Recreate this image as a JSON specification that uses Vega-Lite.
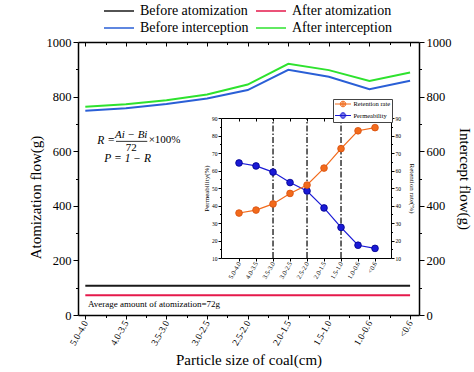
{
  "$schema": "https://vega.github.io/schema/vega-lite/v6.json",
  "width": 341,
  "height": 273,
  "autosize": {"type": "none"},
  "padding": {"left": 78, "top": 42, "right": 55, "bottom": 57},
  "background": "white",
  "config": {
    "view": {"stroke": null},
    "font": "Liberation Serif",
    "axis": {"labelFont": "Liberation Serif", "titleFont": "Liberation Serif", "titleFontWeight": "normal", "domainColor": "black", "tickColor": "black", "labelColor": "black", "titleColor": "black", "grid": false, "labelOverlap": false, "labelFlush": false},
    "legend": {"labelFont": "Liberation Serif", "labelColor": "black"},
    "text": {"font": "Liberation Serif"}
  },
  "datasets": {
    "main": [
      {"size": "5.0-4.0", "idx": 0, "series": "Before atomization", "flow": 107},
      {"size": "4.0-3.5", "idx": 1, "series": "Before atomization", "flow": 107},
      {"size": "3.5-3.0", "idx": 2, "series": "Before atomization", "flow": 107},
      {"size": "3.0-2.5", "idx": 3, "series": "Before atomization", "flow": 107},
      {"size": "2.5-2.0", "idx": 4, "series": "Before atomization", "flow": 107},
      {"size": "2.0-1.5", "idx": 5, "series": "Before atomization", "flow": 107},
      {"size": "1.5-1.0", "idx": 6, "series": "Before atomization", "flow": 107},
      {"size": "1.0-0.6", "idx": 7, "series": "Before atomization", "flow": 107},
      {"size": "<0.6", "idx": 8, "series": "Before atomization", "flow": 107},
      {"size": "5.0-4.0", "idx": 0, "series": "After atomization", "flow": 72},
      {"size": "4.0-3.5", "idx": 1, "series": "After atomization", "flow": 72},
      {"size": "3.5-3.0", "idx": 2, "series": "After atomization", "flow": 72},
      {"size": "3.0-2.5", "idx": 3, "series": "After atomization", "flow": 72},
      {"size": "2.5-2.0", "idx": 4, "series": "After atomization", "flow": 72},
      {"size": "2.0-1.5", "idx": 5, "series": "After atomization", "flow": 72},
      {"size": "1.5-1.0", "idx": 6, "series": "After atomization", "flow": 72},
      {"size": "1.0-0.6", "idx": 7, "series": "After atomization", "flow": 72},
      {"size": "<0.6", "idx": 8, "series": "After atomization", "flow": 72},
      {"size": "5.0-4.0", "idx": 0, "series": "Before interception", "flow": 748},
      {"size": "4.0-3.5", "idx": 1, "series": "Before interception", "flow": 757},
      {"size": "3.5-3.0", "idx": 2, "series": "Before interception", "flow": 773},
      {"size": "3.0-2.5", "idx": 3, "series": "Before interception", "flow": 793},
      {"size": "2.5-2.0", "idx": 4, "series": "Before interception", "flow": 824},
      {"size": "2.0-1.5", "idx": 5, "series": "Before interception", "flow": 898},
      {"size": "1.5-1.0", "idx": 6, "series": "Before interception", "flow": 873},
      {"size": "1.0-0.6", "idx": 7, "series": "Before interception", "flow": 827},
      {"size": "<0.6", "idx": 8, "series": "Before interception", "flow": 858},
      {"size": "5.0-4.0", "idx": 0, "series": "After interception", "flow": 763},
      {"size": "4.0-3.5", "idx": 1, "series": "After interception", "flow": 772},
      {"size": "3.5-3.0", "idx": 2, "series": "After interception", "flow": 787},
      {"size": "3.0-2.5", "idx": 3, "series": "After interception", "flow": 808},
      {"size": "2.5-2.0", "idx": 4, "series": "After interception", "flow": 844},
      {"size": "2.0-1.5", "idx": 5, "series": "After interception", "flow": 920},
      {"size": "1.5-1.0", "idx": 6, "series": "After interception", "flow": 897},
      {"size": "1.0-0.6", "idx": 7, "series": "After interception", "flow": 857},
      {"size": "<0.6", "idx": 8, "series": "After interception", "flow": 888}
    ],
    "inset": [
      {"size": "5.0-4.0", "idx": 0, "series": "Permeability", "pct": 64.3},
      {"size": "4.0-3.5", "idx": 1, "series": "Permeability", "pct": 62.6},
      {"size": "3.5-3.0", "idx": 2, "series": "Permeability", "pct": 59.1},
      {"size": "3.0-2.5", "idx": 3, "series": "Permeability", "pct": 53.1},
      {"size": "2.5-2.0", "idx": 4, "series": "Permeability", "pct": 48.3},
      {"size": "2.0-1.5", "idx": 5, "series": "Permeability", "pct": 38.6},
      {"size": "1.5-1.0", "idx": 6, "series": "Permeability", "pct": 27.5},
      {"size": "1.0-0.6", "idx": 7, "series": "Permeability", "pct": 17.3},
      {"size": "<0.6", "idx": 8, "series": "Permeability", "pct": 15.5},
      {"size": "5.0-4.0", "idx": 0, "series": "Retention rate", "pct": 35.7},
      {"size": "4.0-3.5", "idx": 1, "series": "Retention rate", "pct": 37.4},
      {"size": "3.5-3.0", "idx": 2, "series": "Retention rate", "pct": 40.9},
      {"size": "3.0-2.5", "idx": 3, "series": "Retention rate", "pct": 46.9},
      {"size": "2.5-2.0", "idx": 4, "series": "Retention rate", "pct": 51.7},
      {"size": "2.0-1.5", "idx": 5, "series": "Retention rate", "pct": 61.4},
      {"size": "1.5-1.0", "idx": 6, "series": "Retention rate", "pct": 72.5},
      {"size": "1.0-0.6", "idx": 7, "series": "Retention rate", "pct": 82.7},
      {"size": "<0.6", "idx": 8, "series": "Retention rate", "pct": 84.5}
    ]
  },
  "layer": [
    {
      "data": {"name": "main"},
      "transform": [{"filter": "datum.series === 'Before atomization' || datum.series === 'After atomization'"}],
      "mark": {"type": "line", "strokeWidth": 2},
      "encoding": {
        "x": {"field": "idx", "type": "quantitative", "scale": {"domain": [-0.18, 8.22], "nice": false, "zero": false},
          "axis": {"orient": "bottom", "values": [0, 0.5, 1, 1.5, 2, 2.5, 3, 3.5, 4, 4.5, 5, 5.5, 6, 6.5, 7, 7.5, 8],
            "labelExpr": "datum.value % 1 ? '' : ['5.0-4.0','4.0-3.5','3.5-3.0','3.0-2.5','2.5-2.0','2.0-1.5','1.5-1.0','1.0-0.6','<0.6'][datum.value]",
            "labelAngle": -60, "labelAlign": "right", "labelBaseline": "middle", "labelFontSize": 9.5, "labelPadding": 2,
            "tickSize": {"condition": {"test": "datum.value % 1 !== 0", "value": 2.5}, "value": 4},
            "domainWidth": 1.5, "title": "Particle size of coal(cm)", "titleFontSize": 15, "titlePadding": 6}},
        "y": {"field": "flow", "type": "quantitative", "scale": {"domain": [0, 1000], "nice": false},
          "axis": {"orient": "left", "values": [0, 100, 200, 300, 400, 500, 600, 700, 800, 900, 1000],
            "labelExpr": "datum.value % 200 ? '' : '' + datum.value", "labelFontSize": 12.5, "labelPadding": 2,
            "tickSize": {"condition": {"test": "datum.value % 200 !== 0", "value": 2.5}, "value": 5},
            "domainWidth": 1.5, "title": "Atomization flow(g)", "titleFontSize": 15, "titlePadding": 3, "titleY": 155}},
        "color": {"field": "series", "type": "nominal",
          "scale": {"domain": ["Before atomization", "Before interception", "After atomization", "After interception"], "range": ["#1a1a1a", "#2a5fd6", "#e5194b", "#2ee22e"]},
          "legend": {"orient": "none", "legendX": 24, "legendY": -38, "title": null, "columns": 2, "symbolType": "M-1,0L5,0", "symbolSize": 100, "symbolStrokeWidth": 1.5, "labelFontSize": 14, "columnPadding": 4, "rowPadding": 3, "labelOffset": 24, "padding": 0}}
      }
    },
    {
      "data": {"name": "main"},
      "transform": [{"filter": "datum.series === 'Before interception' || datum.series === 'After interception'"}],
      "mark": {"type": "line", "strokeWidth": 2},
      "encoding": {
        "x": {"field": "idx", "type": "quantitative", "scale": {"domain": [-0.18, 8.22], "nice": false, "zero": false},
          "axis": {"orient": "top", "values": [0, 0.5, 1, 1.5, 2, 2.5, 3, 3.5, 4, 4.5, 5, 5.5, 6, 6.5, 7, 7.5, 8], "labels": false,
            "tickSize": {"condition": {"test": "datum.value % 1 !== 0", "value": -2.5}, "value": -4}, "domainWidth": 1.5, "title": null}},
        "y": {"field": "flow", "type": "quantitative", "scale": {"domain": [0, 1000], "nice": false},
          "axis": {"orient": "right", "values": [0, 100, 200, 300, 400, 500, 600, 700, 800, 900, 1000],
            "labelExpr": "datum.value % 200 ? '' : '' + datum.value", "labelFontSize": 12.5, "labelPadding": 2,
            "tickSize": {"condition": {"test": "datum.value % 200 !== 0", "value": 2.5}, "value": 5},
            "domainWidth": 1.5, "title": "Intercept flow(g)", "titleFontSize": 15, "titlePadding": 5}},
        "color": {"field": "series", "type": "nominal",
          "scale": {"domain": ["Before atomization", "Before interception", "After atomization", "After interception"], "range": ["#1a1a1a", "#2a5fd6", "#e5194b", "#2ee22e"]},
          "legend": null}
      }
    },
    {
      "data": {"values": [{"t": "Average amount of atomization=72g"}]},
      "mark": {"type": "text", "align": "left", "baseline": "middle", "fontSize": 9, "color": "black"},
      "encoding": {"x": {"datum": 0.066, "scale": {"domain": [-0.18, 8.22], "nice": false, "zero": false}, "axis": null}, "y": {"datum": 41, "scale": {"domain": [0, 1000], "nice": false}, "axis": null}, "text": {"field": "t"}}
    },
    {
      "data": {"values": [{"t": "R ="}]},
      "mark": {"type": "text", "align": "left", "baseline": "middle", "fontSize": 11.5, "fontStyle": "italic", "color": "black"},
      "encoding": {"x": {"datum": 0.295, "scale": {"domain": [-0.18, 8.22], "nice": false, "zero": false}, "axis": null}, "y": {"datum": 638, "scale": {"domain": [0, 1000], "nice": false}, "axis": null}, "text": {"field": "t"}}
    },
    {
      "data": {"values": [{"t": "Ai − Bi"}]},
      "mark": {"type": "text", "align": "center", "baseline": "middle", "fontSize": 11, "fontStyle": "italic", "color": "black"},
      "encoding": {"x": {"datum": 1.13, "scale": {"domain": [-0.18, 8.22], "nice": false, "zero": false}, "axis": null}, "y": {"datum": 659, "scale": {"domain": [0, 1000], "nice": false}, "axis": null}, "text": {"field": "t"}}
    },
    {
      "data": {"values": [{"t": "72"}]},
      "mark": {"type": "text", "align": "center", "baseline": "middle", "fontSize": 11, "color": "black"},
      "encoding": {"x": {"datum": 1.13, "scale": {"domain": [-0.18, 8.22], "nice": false, "zero": false}, "axis": null}, "y": {"datum": 612, "scale": {"domain": [0, 1000], "nice": false}, "axis": null}, "text": {"field": "t"}}
    },
    {
      "data": {"values": [{"t": "bar"}]},
      "mark": {"type": "rule", "color": "black", "strokeWidth": 0.8},
      "encoding": {"x": {"datum": 0.756, "scale": {"domain": [-0.18, 8.22], "nice": false, "zero": false}, "axis": null}, "x2": {"datum": 1.527}, "y": {"datum": 636, "scale": {"domain": [0, 1000], "nice": false}, "axis": null}}
    },
    {
      "data": {"values": [{"t": "×100%"}]},
      "mark": {"type": "text", "align": "left", "baseline": "middle", "fontSize": 11, "color": "black"},
      "encoding": {"x": {"datum": 1.56, "scale": {"domain": [-0.18, 8.22], "nice": false, "zero": false}, "axis": null}, "y": {"datum": 641, "scale": {"domain": [0, 1000], "nice": false}, "axis": null}, "text": {"field": "t"}}
    },
    {
      "data": {"values": [{"t": "P = 1 − R"}]},
      "mark": {"type": "text", "align": "left", "baseline": "middle", "fontSize": 11.5, "fontStyle": "italic", "color": "black"},
      "encoding": {"x": {"datum": 0.468, "scale": {"domain": [-0.18, 8.22], "nice": false, "zero": false}, "axis": null}, "y": {"datum": 570, "scale": {"domain": [0, 1000], "nice": false}, "axis": null}, "text": {"field": "t"}}
    },
    {
      "data": {"name": "inset"},
      "transform": [{"filter": "datum.series === 'Permeability' && (datum.idx === 2 || datum.idx === 4 || datum.idx === 6)"}],
      "mark": {"type": "rule", "color": "black", "strokeWidth": 1.2, "strokeDash": [6, 2, 1.5, 2]},
      "encoding": {
        "x": {"field": "idx", "type": "quantitative", "scale": {"domain": [-1.06, 8.94], "range": [143, 313], "nice": false, "zero": false}, "axis": null},
        "y": {"datum": 10, "scale": {"domain": [10, 90], "range": [216, 76], "nice": false, "zero": false}, "axis": null},
        "y2": {"datum": 90}
      }
    },
    {
      "data": {"name": "inset"},
      "transform": [{"filter": "datum.series === 'Permeability'"}],
      "mark": {"type": "line", "strokeWidth": 1.2},
      "encoding": {
        "x": {"field": "idx", "type": "quantitative", "scale": {"domain": [-1.06, 8.94], "range": [143, 313], "nice": false, "zero": false},
          "axis": {"orient": "bottom", "offset": -57, "values": [0, 1, 2, 3, 4, 5, 6, 7, 8],
            "labelExpr": "['5.0-4.0','4.0-3.5','3.5-3.0','3.0-2.5','2.5-2.0','2.0-1.5','1.5-1.0','1.0-0.6','<0.6'][datum.value]",
            "labelAngle": -60, "labelAlign": "right", "labelBaseline": "middle", "labelFontSize": 6.5, "labelPadding": 1, "tickSize": 3, "domainWidth": 1, "title": null}},
        "y": {"field": "pct", "type": "quantitative", "scale": {"domain": [10, 90], "range": [216, 76], "nice": false, "zero": false},
          "axis": {"orient": "left", "offset": -143, "values": [10, 15, 20, 25, 30, 35, 40, 45, 50, 55, 60, 65, 70, 75, 80, 85, 90],
            "labelExpr": "datum.value % 10 ? '' : '' + datum.value", "labelFontSize": 5.5, "labelPadding": 1,
            "tickSize": {"condition": {"test": "datum.value % 10 !== 0", "value": 1.5}, "value": 3},
            "domainWidth": 1, "title": "Permeability(%)", "titleFontSize": 7, "titlePadding": 2}},
        "color": {"field": "series", "type": "nominal", "scale": {"domain": ["Retention rate", "Permeability"], "range": ["#f26a1b", "#1a1ad6"]},
          "legend": {"orient": "none", "legendX": 255, "legendY": 57, "title": null,
            "values": ["Retention rate", "Permeability"],
            "symbolType": "M-1,0L4.33,0M2.6,0A0.93,0.93,0,1,1,0.74,0A0.93,0.93,0,1,1,2.6,0M2.27,0A0.6,0.6,0,1,1,1.07,0A0.6,0.6,0,1,1,2.27,0M1.94,0A0.27,0.27,0,1,1,1.4,0A0.27,0.27,0,1,1,1.94,0",
            "symbolSize": 36, "symbolStrokeWidth": 1, "labelFontSize": 6.5, "strokeColor": "#444", "fillColor": "white", "padding": 1.5, "rowPadding": 0.5, "labelOffset": 12}}
      }
    },
    {
      "data": {"name": "inset"},
      "transform": [{"filter": "datum.series === 'Permeability'"}],
      "mark": {"type": "point", "filled": true, "size": 45, "stroke": "#00008b", "strokeWidth": 0.8, "opacity": 1},
      "encoding": {
        "x": {"field": "idx", "type": "quantitative", "scale": {"domain": [-1.06, 8.94], "range": [143, 313], "nice": false, "zero": false}, "axis": null},
        "y": {"field": "pct", "type": "quantitative", "scale": {"domain": [10, 90], "range": [216, 76], "nice": false, "zero": false}, "axis": null},
        "color": {"field": "series", "type": "nominal", "scale": {"domain": ["Retention rate", "Permeability"], "range": ["#f26a1b", "#1a1ad6"]}, "legend": null}
      }
    },
    {
      "data": {"name": "inset"},
      "transform": [{"filter": "datum.series === 'Retention rate'"}],
      "mark": {"type": "line", "strokeWidth": 1.2},
      "encoding": {
        "x": {"field": "idx", "type": "quantitative", "scale": {"domain": [-1.06, 8.94], "range": [143, 313], "nice": false, "zero": false},
          "axis": {"orient": "top", "offset": -76, "values": [0, 1, 2, 3, 4, 5, 6, 7, 8], "labels": false, "tickSize": -3, "domainWidth": 1, "title": null}},
        "y": {"field": "pct", "type": "quantitative", "scale": {"domain": [10, 90], "range": [216, 76], "nice": false, "zero": false},
          "axis": {"orient": "right", "offset": -28, "values": [10, 15, 20, 25, 30, 35, 40, 45, 50, 55, 60, 65, 70, 75, 80, 85, 90],
            "labelExpr": "datum.value % 10 ? '' : '' + datum.value", "labelFontSize": 5.5, "labelPadding": 1,
            "tickSize": {"condition": {"test": "datum.value % 10 !== 0", "value": 1.5}, "value": 3},
            "domainWidth": 1, "title": "Retention rate(%)", "titleFontSize": 7, "titlePadding": 8}},
        "color": {"field": "series", "type": "nominal", "scale": {"domain": ["Retention rate", "Permeability"], "range": ["#f26a1b", "#1a1ad6"]}, "legend": null}
      }
    },
    {
      "data": {"name": "inset"},
      "transform": [{"filter": "datum.series === 'Retention rate'"}],
      "mark": {"type": "point", "filled": true, "size": 45, "stroke": "#d8500f", "strokeWidth": 0.8, "opacity": 1},
      "encoding": {
        "x": {"field": "idx", "type": "quantitative", "scale": {"domain": [-1.06, 8.94], "range": [143, 313], "nice": false, "zero": false}, "axis": null},
        "y": {"field": "pct", "type": "quantitative", "scale": {"domain": [10, 90], "range": [216, 76], "nice": false, "zero": false}, "axis": null},
        "color": {"field": "series", "type": "nominal", "scale": {"domain": ["Retention rate", "Permeability"], "range": ["#f26a1b", "#1a1ad6"]}, "legend": null}
      }
    }
  ],
  "resolve": {"scale": {"x": "independent", "y": "independent", "color": "independent"}}
}
